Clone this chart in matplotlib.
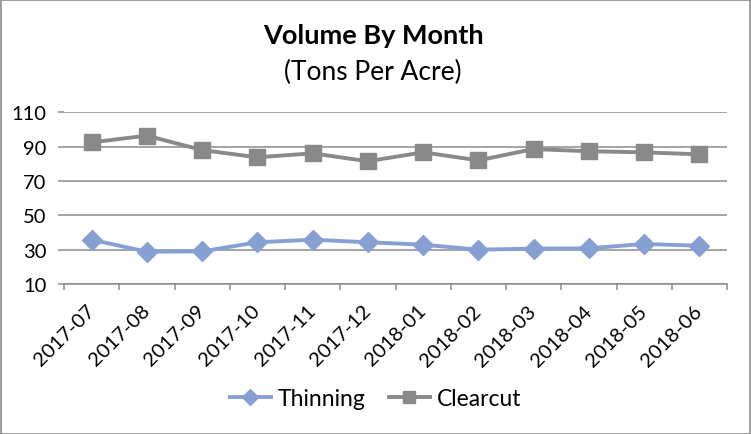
import matplotlib
matplotlib.use("Agg")
import matplotlib.pyplot as plt
from matplotlib.patches import Rectangle

plt.rcParams['font.family'] = ['Lato', 'DejaVu Sans']

months = ["2017-07", "2017-08", "2017-09", "2017-10", "2017-11", "2017-12",
          "2018-01", "2018-02", "2018-03", "2018-04", "2018-05", "2018-06"]
thinning = [35.8, 28.8, 29.0, 34.3, 35.8, 34.3, 32.9, 30.0, 30.6, 30.8, 33.3, 32.3]
clearcut = [92.5, 96.4, 88.0, 83.8, 86.1, 81.5, 86.7, 82.0, 88.6, 87.3, 86.7, 85.5]
yticks = [10, 30, 50, 70, 90, 110]

thin_color = "#86A0D3"
clear_color = "#898989"
grid_color = "#8C8C8C"

fig = plt.figure(figsize=(7.51, 4.35), dpi=100)
ax = fig.add_axes([64/751, 150/435, 663/751, 171.7/435])

x = list(range(len(months)))
ax.plot(x, thinning, color=thin_color, lw=2.8, marker='D', ms=10.5, mec=thin_color,
        label="Thinning", solid_joinstyle='round', zorder=3)
ax.plot(x, clearcut, color=clear_color, lw=2.8, marker='s', ms=11.5, mec=clear_color,
        label="Clearcut", solid_joinstyle='round', zorder=3)

ax.set_xlim(-0.5, len(months) - 0.5)
ax.set_ylim(10, 110)
ax.set_yticks(yticks)
ax.set_yticklabels([str(v) for v in yticks])
ax.yaxis.grid(True, color=grid_color, lw=1.1)
ax.set_axisbelow(True)

for s in ['top', 'right', 'left']:
    ax.spines[s].set_visible(False)
ax.spines['bottom'].set_color(grid_color)
ax.spines['bottom'].set_linewidth(1.1)

ax.tick_params(axis='y', length=4.5, width=1.1, color=grid_color, pad=8,
               labelsize=14.5, labelcolor='black')
ax.set_xticks(x)
ax.set_xticklabels(months, rotation=45, ha='right', va='center', rotation_mode='anchor')
ax.set_xticks([i - 0.5 for i in range(len(months) + 1)], minor=True)
ax.tick_params(axis='x', which='major', length=0, pad=17, labelsize=14.5)
ax.tick_params(axis='x', which='minor', length=4.5, width=1.1, color=grid_color)

fig.text(0.497, 1 - 36/435, "Volume By Month", ha='center', va='center',
         fontsize=19.5, fontweight='bold')
fig.text(0.497, 1 - 72/435, "(Tons Per Acre)", ha='center', va='center',
         fontsize=19)

leg = fig.legend(loc='center', bbox_to_anchor=(0.5, 1 - 400/435), ncol=2,
                 frameon=False, fontsize=16.5, handlelength=1.8, handletextpad=0.3,
                 columnspacing=1.0, markerscale=0.75)

fig.patches.append(Rectangle((0.5/751, 0.5/435), 1 - 1.5/751, 1 - 1.5/435,
                             transform=fig.transFigure, fill=False,
                             edgecolor=grid_color, lw=1.2))

fig.savefig("out.png", dpi=100)
